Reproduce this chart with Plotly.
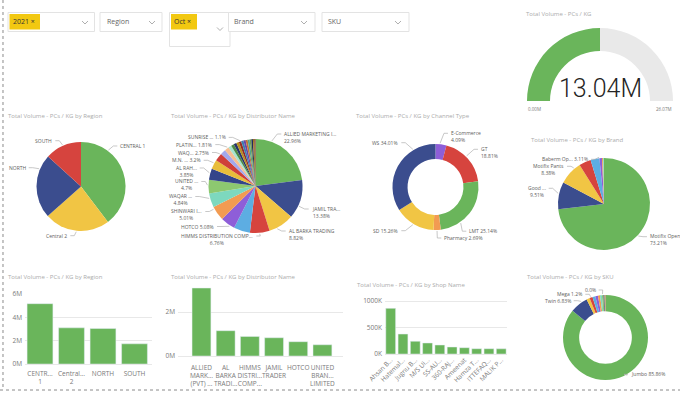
import math
import plotly.graph_objects as go

W, H = 680, 393
FONT = "Open Sans"

# ---------------- data ----------------
slicer_year = "2021"
slicer_month = "Oct"
slicer_region = "Region"
slicer_brand = "Brand"
slicer_sku = "SKU"

gauge_title = "Total Volume - PCs / KG"
gauge_value = 13.04e6
gauge_min = 0.0
gauge_max = 26.07e6

region_pie_title = "Total Volume - PCs / KG by Region"
region_bar_title = "Total Volume - PCs / KG by Region"
region_names = ["CENTRAL 1", "Central 2", "NORTH", "SOUTH"]
region_values = [5.17e6, 3.10e6, 3.04e6, 1.73e6]
region_ticktext = ["CENTR...<br>1", "Central...<br>2", "NORTH", "SOUTH"]
region_yticks = [0, 2e6, 4e6, 6e6]
region_yticktext = ["0M", "2M", "4M", "6M"]

dist_title = "Total Volume - PCs / KG by Distributor Name"
dist_names = ["ALLIED MARKETING I...", "JAMIL TRA...", "AL BARKA TRADING",
              "HIMMS DISTRIBUTION COMP...", "Distributor 5", "HOTCO", "SHINWARI I...",
              "WAQAR ...", "UNITED ...", "AL RAH...", "M.N. ...", "WAQ...", "PLATIN...",
              "Distributor 14", "SUNRISE ...", "Distributor 16", "Distributor 17",
              "Distributor 18", "Distributor 19", "Distributor 20", "Distributor 21",
              "Distributor 22", "Distributor 23", "Distributor 24", "Distributor 25",
              "Distributor 26", "Distributor 27"]
dist_pcts = [22.96, 13.38, 8.82, 6.76, 5.6, 5.08, 5.01, 4.84, 4.7, 3.85, 3.2, 2.75, 1.81,
             1.5, 1.1, 1.0, 0.95, 0.9, 0.85, 0.8, 0.75, 0.7, 0.65, 0.6, 0.55, 0.5, 0.39]

distbar_title = "Total Volume - PCs / KG by Distributor Name"
distbar_names = ["ALLIED MARK (PVT)", "AL BARKA TRADING", "HIMMS DISTRIBUTION COMPANY",
                 "JAMIL TRADER", "HOTCO", "UNITED BRANDS LIMITED"]
distbar_ticktext = ["ALLIED<br>MARK...<br>(PVT) ...", "AL<br>BARKA<br>TRADI...",
                    "HIMMS<br>DISTRI...<br>COMP...", "JAMIL<br>TRADER", "HOTCO",
                    "UNITED<br>BRAN...<br>LIMITED"]
distbar_values = [3.09e6, 1.15e6, 0.89e6, 0.83e6, 0.65e6, 0.51e6]
distbar_yticks = [0, 2e6]
distbar_yticktext = ["0M", "2M"]

channel_title = "Total Volume - PCs / KG by Channel Type"
channel_names = ["E-Commerce", "GT", "LMT", "Pharmacy", "SD", "WS"]
channel_pcts = [4.09, 18.81, 25.14, 2.69, 15.26, 34.01]

brand_title = "Total Volume - PCs / KG by Brand"
brand_names = ["Motifix Open", "Good ...", "Motifix Pants", "Brand 4", "Baberm Op...",
               "Brand 6", "Brand 7", "Brand 8"]
brand_pcts = [73.21, 9.51, 8.38, 4.2, 3.11, 0.9, 0.4, 0.29]

shop_title = "Total Volume - PCs / KG by Shop Name"
shop_names = ["Ahsan B...", "Hatemal...", "Jugnu B...", "M/S Ui...", "SS-AU...",
              "360-RAJ...", "Ameenat", "Hamza T...", "ITTEFAQ...", "MALIK P..."]
shop_values = [862e3, 377e3, 240e3, 208e3, 170e3, 132e3, 119e3, 100e3, 100e3, 98e3]
shop_yticks = [0, 5e5, 1e6]
shop_yticktext = ["0K", "500K", "1000K"]

sku_title = "Total Volume - PCs / KG by SKU"
sku_names = ["Jumbo", "Twin", "Mega", "SKU 4", "SKU 5", "SKU 6", "SKU 7", "SKU 8",
             "SKU 9", "SKU 10", "SKU 11", "SKU 12", ""]
sku_pcts = [85.86, 6.83, 1.2, 1.15, 1.1, 1.0, 0.8, 0.7, 0.6, 0.4, 0.2, 0.12, 0.04]

# ---------------- style ----------------
GREEN = "#6AB55B"
PALETTE = ["#6AB55B", "#3B4D8E", "#F1C544", "#D6443E", "#5DADE2", "#8E5ED8", "#F29B52",
           "#7DD8BE", "#8DC870", "#34458A", "#E8BD3A", "#CF3F39", "#A3A8EC", "#F6BE93",
           "#A5E4D0", "#4E8A45", "#25336A", "#B8901E", "#962D22", "#3C7EB0", "#6A45A8",
           "#C27436", "#4FA38C", "#6C9A50", "#1F2D5C", "#9C7A18", "#7A241C"]
region_colors = ["#6AB55B", "#F1C544", "#3B4D8E", "#D6443E"]
channel_colors = ["#8E5ED8", "#D6443E", "#6AB55B", "#F29B52", "#F1C544", "#3B4D8E"]
TITLE_C = "#ABABAB"
LABEL_C = "#605E5C"
AXIS_C = "#7A7A7A"
LEADER_C = "#B0B0B0"

shapes, annotations, traces = [], [], []


def X(x):
    return x / W


def Y(y):
    return 1 - y / H


def text(x, y, s, size, color, xanchor="left", yanchor="middle", align="left",
         family=FONT, weight=None):
    f = dict(family=family, size=size, color=color)
    if weight:
        f["weight"] = weight
    annotations.append(dict(x=X(x), y=Y(y), xref="paper", yref="paper", text=s,
                            showarrow=False, xanchor=xanchor, yanchor=yanchor,
                            align=align, font=f, borderpad=0))


def rect(x0, y0, x1, y1, fill, lc, lw=1):
    shapes.append(dict(type="rect", xref="paper", yref="paper", x0=X(x0), x1=X(x1),
                       y0=Y(y1), y1=Y(y0), fillcolor=fill, line=dict(color=lc, width=lw)))


def path(pts, color, width=0.8, dash=None):
    d = "M " + " L ".join(f"{X(a):.5f},{Y(b):.5f}" for a, b in pts)
    ln = dict(color=color, width=width)
    if dash:
        ln["dash"] = dash
    shapes.append(dict(type="path", xref="paper", yref="paper", path=d, line=ln))


def pie(values, names, colors, cx, cy, r, hole=0.0, rotation=0):
    traces.append(go.Pie(values=values, labels=names,
                         marker=dict(colors=colors, line=dict(width=0)),
                         domain=dict(x=[X(cx - r), X(cx + r)], y=[Y(cy + r), Y(cy - r)]),
                         hole=hole, sort=False, direction="clockwise", rotation=rotation,
                         textinfo="none", hoverinfo="label+percent", showlegend=False))


LFS = 5.0


def pie_labels(cx, cy, r, names, pcts, layout, show_pct=True):
    for idx, two, lx, ly, side, ang in layout:
        name = names[idx]
        if show_pct:
            p = f"{pcts[idx]:.1f}%" if name == "" else f"{pcts[idx]:g}%"
            if name == "":
                s = p
            else:
                s = f"{name}<br>{p}" if two else f"{name} {p}"
        else:
            s = name
        a = math.radians(ang)
        x0 = cx + (r + 1) * math.sin(a)
        y0 = cy - (r + 1) * math.cos(a)
        x2 = lx - side * 2
        x1 = x2 - side * 4
        path([(x0, y0), (x1, ly), (x2, ly)], LEADER_C, 0.7)
        n = s.count("<br>") + 1
        ymid = ly + (n - 1) * 1.3 * LFS / 2
        text(lx, ymid, s, LFS, LABEL_C, xanchor="left" if side > 0 else "right",
             align="left" if side > 0 else "center")


# ---------------- frame ----------------
path([(3, 0), (3, 390)], "#8A8A8A", 1, "dot")
path([(0, 390), (680, 390)], "#8A8A8A", 1, "dot")

# ---------------- slicers ----------------
BOX_C = "#E3E3E3"
CHIP = "#F2C811"
rect(8, 12.5, 94.5, 31.5, "white", BOX_C)
rect(100, 12.5, 162, 31.5, "white", BOX_C)
rect(169.5, 12.5, 230, 46.5, "white", BOX_C)
rect(228.5, 12.5, 315, 31.5, "white", BOX_C)
rect(322, 12.5, 409, 31.5, "white", BOX_C)
rect(9.5, 14, 40, 29.5, CHIP, CHIP, 0)
rect(171, 14, 197, 29.5, CHIP, CHIP, 0)
text(11.5, 22, f"{slicer_year} ×", 7, "#333333")
text(172.5, 22, f"{slicer_month} ×", 7, "#333333")
text(106, 22, slicer_region, 7, "#666666")
text(233, 22, slicer_brand, 7, "#666666")
text(327, 22, slicer_sku, 7, "#666666")
for cxv, cyv in [(85, 22.5), (152, 22.5), (220, 29), (304, 22.5), (398, 22.5)]:
    path([(cxv - 3, cyv - 1.5), (cxv, cyv + 1.5), (cxv + 3, cyv - 1.5)], "#9A9A9A", 0.8)

# ---------------- gauge ----------------
text(525, 14, gauge_title, 6, TITLE_C)
gcx, gcy, gr = 600, 101, 73
span = gauge_max - gauge_min
pie([gauge_value - gauge_min, gauge_max - gauge_value, span], ["Value", "Remaining", "Hidden"],
    [GREEN, "#E9E9E9", "rgba(0,0,0,0)"], gcx, gcy, gr, hole=50 / 73, rotation=-90)
text(600, 89, f"{gauge_value / 1e6:.2f}M", 25, "#252423", xanchor="center",
     family="Roboto", weight=300)
text(527, 109, f"{gauge_min / 1e6:.2f}M", 4.5, "#777777")
text(673, 109, f"{gauge_max / 1e6:.2f}M", 4.5, "#777777", xanchor="right")

# ---------------- region pie ----------------
text(7, 115.5, region_pie_title, 6, TITLE_C)
rcx, rcy, rr = 81, 186.5, 44.5
pie(region_values, region_names, region_colors, rcx, rcy, rr)
pie_labels(rcx, rcy, rr, region_names, None,
           [(0, False, 119.3, 146, 1, 37), (1, False, 68.3, 235.7, -1, 186),
            (2, False, 26.7, 167.7, -1, 293), (3, False, 53.3, 140.7, -1, 336)],
           show_pct=False)

# ---------------- distributor pie ----------------
text(170, 115.5, dist_title, 6, TITLE_C)
dcx, dcy, dr = 255.5, 186, 47
pie(dist_pcts, dist_names, PALETTE[:len(dist_pcts)], dcx, dcy, dr)
pie_labels(dcx, dcy, dr, dist_names, dist_pcts,
           [(0, True, 283.3, 134, 1, 20), (1, True, 310.7, 209, 1, 115),
            (2, True, 287.7, 231, 1, 153), (3, True, 254.3, 236, -1, 175),
            (5, False, 215, 226.5, -1, 213), (6, True, 203.3, 211.5, -1, 241),
            (7, True, 193.3, 196.5, -1, 255), (8, True, 199.3, 181.5, -1, 271),
            (9, True, 197.7, 168, -1, 286), (10, False, 201.7, 160.3, -1, 299),
            (11, False, 210, 152.5, -1, 312), (12, False, 213.3, 144.6, -1, 324),
            (14, False, 226.7, 137.4, -1, 341)])

# ---------------- channel donut ----------------
text(355, 115.5, channel_title, 6, TITLE_C)
ccx, ccy, cr = 435.5, 187, 43
pie(channel_pcts, channel_names, channel_colors, ccx, ccy, cr, hole=0.65)
pie_labels(ccx, ccy, cr, channel_names, channel_pcts,
           [(0, True, 450, 133.3, 1, 6), (1, True, 480, 149.3, 1, 45),
            (2, False, 468.3, 231.2, 1, 145), (3, False, 443.3, 238, 1, 178),
            (4, False, 399.3, 230.7, -1, 211), (5, False, 399.3, 142.7, -1, 329)])

# ---------------- brand pie ----------------
text(530, 140, brand_title, 6, TITLE_C)
bcx, bcy, br = 604, 204, 46
pie(brand_pcts, brand_names, PALETTE[:len(brand_pcts)], bcx, bcy, br)
pie_labels(bcx, bcy, br, brand_names, brand_pcts,
           [(4, False, 589, 159.3, -1, 354), (2, True, 565, 166.3, -1, 320),
            (1, True, 546.7, 188.3, -1, 283), (0, True, 649, 236.7, 1, 133)])

# ---------------- SKU donut ----------------
text(526, 277.3, sku_title, 6, TITLE_C)
scx, scy, sr = 605.5, 337.5, 42.5
pie(sku_pcts, [n if n else "(blank)" for n in sku_names], PALETTE[:len(sku_pcts)],
    scx, scy, sr, hole=0.62)
pie_labels(scx, scy, sr, sku_names, sku_pcts,
           [(0, False, 630, 374.3, 1, 150), (1, False, 571.7, 300.7, -1, 326),
            (2, False, 583.3, 294.3, -1, 340), (12, False, 596.7, 290, -1, 356)])

# ---------------- bar charts ----------------
text(7, 277.3, region_bar_title, 6, TITLE_C)
text(170, 277.3, distbar_title, 6, TITLE_C)
text(355.5, 285, shop_title, 6, TITLE_C)

traces.append(go.Bar(x=region_names, y=region_values, marker=dict(color=GREEN),
                     width=0.82, xaxis="x", yaxis="y", showlegend=False))
traces.append(go.Bar(x=distbar_names, y=distbar_values, marker=dict(color=GREEN),
                     width=0.78, xaxis="x2", yaxis="y2", showlegend=False))
traces.append(go.Bar(x=shop_names, y=shop_values, marker=dict(color=GREEN),
                     width=0.8, xaxis="x3", yaxis="y3", showlegend=False))

fig = go.Figure(data=traces)

xcommon = dict(showgrid=False, zeroline=False, showline=False, ticks="", automargin=False,
               tickfont=dict(family=FONT, size=6.5, color=AXIS_C), fixedrange=True)
ycommon = dict(showgrid=True, gridcolor="#E8E8E8", gridwidth=1, zeroline=True,
               zerolinecolor="#E8E8E8", zerolinewidth=1, showline=False, ticks="",
               automargin=False, ticklabelstandoff=2,
               tickfont=dict(family=FONT, size=6.5, color=AXIS_C), fixedrange=True)

fig.update_layout(
    width=W, height=H, margin=dict(l=0, r=0, t=0, b=0, autoexpand=False),
    paper_bgcolor="white", plot_bgcolor="rgba(0,0,0,0)",
    showlegend=False,
    font=dict(family=FONT),
    xaxis=dict(domain=[X(25), X(151.7)], anchor="y", tickvals=region_names,
               ticktext=region_ticktext, tickangle=0, range=[-0.476, 3.546],
               ticklabelstandoff=4, **xcommon),
    yaxis=dict(domain=[Y(364), Y(294)], anchor="x", range=[0, 6e6],
               tickvals=region_yticks, ticktext=region_yticktext, **ycommon),
    xaxis2=dict(domain=[X(178), X(343)], anchor="y2", tickvals=distbar_names,
                ticktext=distbar_ticktext, tickangle=0, range=[-0.97, 5.85],
                ticklabelstandoff=6, **xcommon),
    yaxis2=dict(domain=[Y(356), Y(285.6)], anchor="x2", range=[0, 3.2e6],
                tickvals=distbar_yticks, ticktext=distbar_yticktext, **ycommon),
    xaxis3=dict(domain=[X(385), X(506.7)], anchor="y3", tickangle=-45,
                range=[-0.465, 9.445], **xcommon),
    yaxis3=dict(domain=[Y(354), Y(300)], anchor="x3", range=[0, 1.02e6],
                tickvals=shop_yticks, ticktext=shop_yticktext, **ycommon),
    shapes=shapes, annotations=annotations,
)

fig.write_html("out.html", config={"displayModeBar": False},
               post_script="document.body.style.margin='0px';"
                           "document.body.style.overflow='hidden';")
